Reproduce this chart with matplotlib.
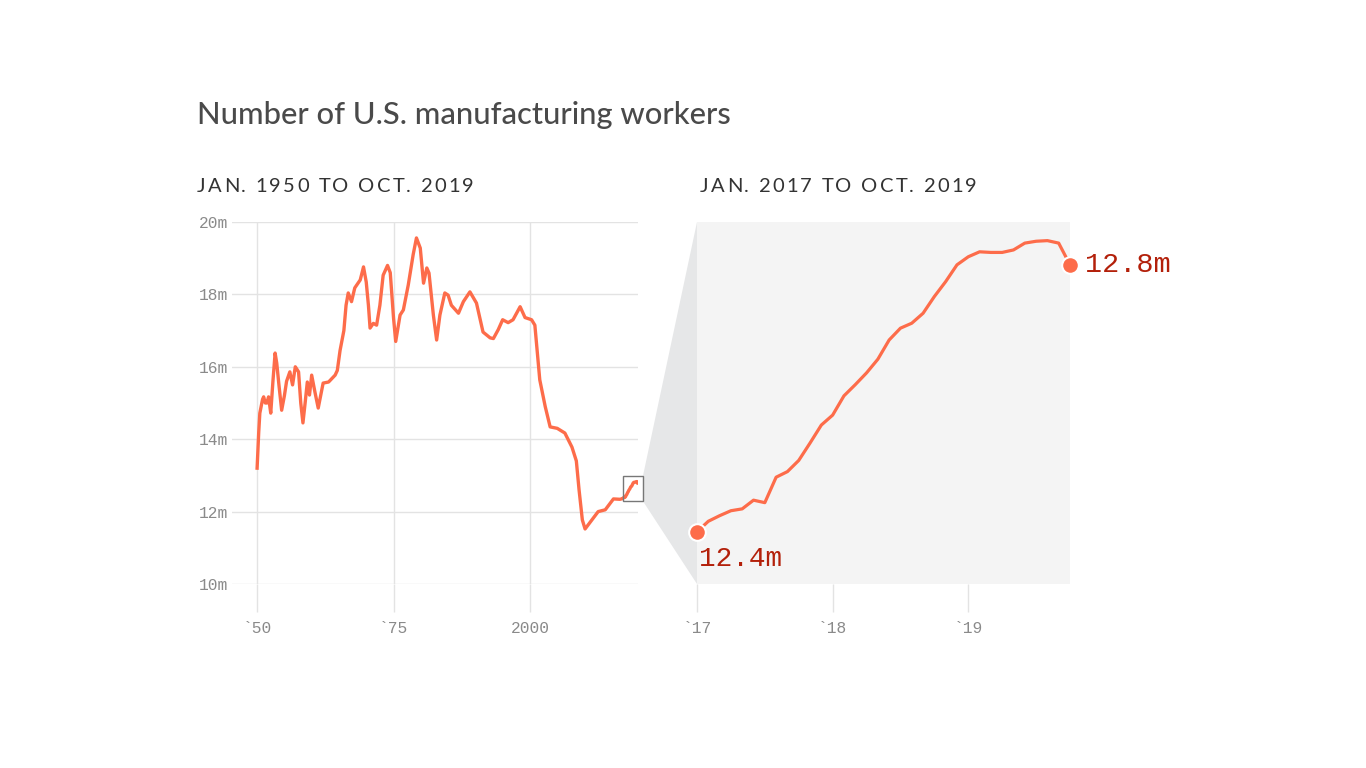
import numpy as np
import matplotlib.pyplot as plt
from matplotlib.patches import Polygon, Rectangle
from matplotlib.font_manager import FontProperties

# long view, millions of workers
hist_years = [1950.0, 1950.3, 1950.5, 1951.0, 1951.2, 1951.5, 1951.8, 1952.1, 1952.5, 1952.9,
              1953.3, 1953.6, 1954.0, 1954.5, 1955.0, 1955.4, 1956.0, 1956.5, 1957.0, 1957.6,
              1958.0, 1958.4, 1958.8, 1959.2, 1959.6, 1960.0, 1960.6, 1961.2, 1962.1, 1963.1,
              1964.3, 1964.7, 1965.2, 1965.9, 1966.3, 1966.7, 1967.3, 1967.9, 1968.9, 1969.5,
              1970.0, 1970.4, 1970.7, 1971.3, 1971.9, 1972.5, 1973.1, 1973.9, 1974.4, 1975.0,
              1975.4, 1976.2, 1976.8, 1977.7, 1978.6, 1979.2, 1979.9, 1980.5, 1981.1, 1981.5,
              1982.3, 1982.9, 1983.5, 1984.4, 1985.0, 1985.6, 1986.9, 1987.8, 1989.0, 1990.2,
              1991.4, 1992.7, 1993.3, 1994.2, 1995.0, 1996.0, 1996.9, 1998.2, 1999.1, 2000.3,
              2000.9, 2001.8, 2002.8, 2003.7, 2005.0, 2006.4, 2007.7, 2008.5, 2009.0, 2009.6,
              2010.1, 2011.0, 2012.5, 2013.8, 2015.3, 2016.5]
hist_values = [13.2, 14.2, 14.72, 15.1, 15.17, 15.0, 15.0, 15.17, 14.72, 15.6,
               16.38, 16.1, 15.5, 14.8, 15.2, 15.6, 15.86, 15.5, 16.0, 15.86,
               15.0, 14.45, 15.0, 15.58, 15.22, 15.77, 15.3, 14.86, 15.55, 15.58,
               15.77, 15.9, 16.45, 17.0, 17.7, 18.04, 17.8, 18.18, 18.4, 18.76,
               18.34, 17.7, 17.07, 17.2, 17.15, 17.7, 18.53, 18.8, 18.6, 17.35,
               16.7, 17.43, 17.57, 18.26, 19.1, 19.56, 19.28, 18.31, 18.73, 18.59,
               17.43, 16.74, 17.43, 18.04, 17.98, 17.7, 17.48, 17.8, 18.07, 17.76,
               16.96, 16.8, 16.78, 17.03, 17.3, 17.22, 17.3, 17.66, 17.36, 17.3,
               17.15, 15.64, 14.9, 14.34, 14.3, 14.17, 13.78, 13.4, 12.6, 11.77,
               11.52, 11.7, 12.0, 12.05, 12.35, 12.34]

# monthly, Jan 2017 .. Oct 2019
recent_values = [12.360, 12.377, 12.386, 12.394, 12.397, 12.411, 12.407, 12.448, 12.457, 12.475,
                 12.503, 12.532, 12.548, 12.579, 12.597, 12.616, 12.638, 12.669, 12.688, 12.696,
                 12.712, 12.739, 12.763, 12.790, 12.803, 12.811, 12.810, 12.810, 12.814, 12.825,
                 12.828, 12.829, 12.825, 12.790]
recent_years = 2017 + np.arange(len(recent_values)) / 12

left_ticks = [1950, 1975, 2000]
left_tick_labels = ["`50", "`75", "2000"]
right_ticks = [2017, 2018, 2019]
right_tick_labels = ["`17", "`18", "`19"]
y_ticks = [10, 12, 14, 16, 18, 20]

ORANGE = "#fd6c4a"
RED_TEXT = "#b3200a"
GRID = "#e3e3e3"
TICK_TXT = "#8a8a8a"
MONO = "Liberation Mono"
SANS = "Lato"

W, H = 1366, 768
fig = plt.figure(figsize=(W / 100, H / 100), dpi=100)


def px_box(x0, y0, x1, y1):
    return [x0 / W, 1 - y1 / H, (x1 - x0) / W, (y1 - y0) / H]


def spaced_text(x_px, y_px, s, size, color, tracking_px, weight="normal"):
    # matplotlib has no letter-spacing, so lay the letters out one by one
    rend = fig.canvas.get_renderer()
    fp = FontProperties(family=SANS, size=size, weight=weight)

    def width(t):
        return rend.get_text_width_height_descent(t, fp, ismath=False)[0]

    space_w = width("a a") - width("aa")
    x = x_px
    for ch in s:
        if ch != " ":
            fig.text(x / W, 1 - y_px / H, ch, fontproperties=fp, color=color,
                     va="center", ha="left")
            x += width(ch) + tracking_px
        else:
            x += space_w + tracking_px


ax1 = fig.add_axes(px_box(232, 222, 638, 584))
ax2 = fig.add_axes(px_box(697, 222, 1070, 584))

# left: whole history
all_years = np.concatenate([hist_years, recent_years])
all_values = np.concatenate([hist_values, recent_values])
ax1.plot(all_years, all_values, color=ORANGE, lw=2.4, solid_joinstyle="round", zorder=3)
ax1.set_xlim(1945.4, 2019.8)
ax1.set_ylim(10, 20)
ax1.set_xticks(left_ticks)
ax1.set_xticklabels(left_tick_labels)
ax1.set_yticks(y_ticks)
ax1.set_yticklabels([f"{v}m" for v in y_ticks])
ax1.grid(True, color=GRID, lw=1, zorder=0)
for s in ax1.spines.values():
    s.set_visible(False)
ax1.tick_params(axis="x", length=20, width=1, color=GRID, pad=6.5, labelsize=11.7,
                labelcolor=TICK_TXT)
ax1.tick_params(axis="y", length=0, pad=3, labelsize=11.7, labelcolor=TICK_TXT)
for lab in ax1.get_xticklabels() + ax1.get_yticklabels():
    lab.set_fontfamily(MONO)

# right: last stretch
ax2.set_facecolor("#f4f4f4")
ax2.plot(recent_years, recent_values, color=ORANGE, lw=2.3, solid_joinstyle="round", zorder=3)
ax2.plot([recent_years[0], recent_years[-1]], [recent_values[0], recent_values[-1]], "o",
         ms=12, mfc=ORANGE, mec="white", mew=1.5, zorder=4, clip_on=False)
ax2.set_xlim(2017, 2017 + 2.75)
ax2.set_ylim(12.276, 12.859)
ax2.set_xticks(right_ticks)
ax2.set_xticklabels(right_tick_labels)
ax2.set_yticks([])
for s in ax2.spines.values():
    s.set_visible(False)
ax2.tick_params(axis="x", length=20, width=1, color=GRID, pad=6.5, labelsize=11.7,
                labelcolor=TICK_TXT)
for lab in ax2.get_xticklabels():
    lab.set_fontfamily(MONO)

ax2.annotate(f"{recent_values[0]:.1f}m", (recent_years[0], recent_values[0]),
             xytext=(1.5, -10), textcoords="offset points", ha="left", va="top",
             fontsize=20, family=MONO, color=RED_TEXT, annotation_clip=False)
ax2.annotate(f"{recent_values[-1]:.1f}m", (recent_years[-1], recent_values[-1]),
             xytext=(11, 0), textcoords="offset points", ha="left", va="center",
             fontsize=20.5, family=MONO, color=RED_TEXT, annotation_clip=False)

# zoom box on the long view, and the wedge joining it to the right panel
box_x0, box_x1 = 2017.0, 2020.7
box_y0, box_y1 = 12.29, 12.98
ax1.add_patch(Rectangle((box_x0, box_y0), box_x1 - box_x0, box_y1 - box_y0,
                        fill=False, ec="#777777", lw=1, clip_on=False, zorder=5))

to_fig = fig.transFigure.inverted()
p_top = to_fig.transform(ax1.transData.transform((box_x1, box_y1)))
p_bot = to_fig.transform(ax1.transData.transform((box_x1, box_y0)))
q_top = to_fig.transform(ax2.transAxes.transform((0, 1)))
q_bot = to_fig.transform(ax2.transAxes.transform((0, 0)))
fig.add_artist(Polygon([p_top, q_top, q_bot, p_bot], closed=True, fc="#e6e7e8", ec="none",
                       transform=fig.transFigure, zorder=0))

# titles
fig.text(197 / W, 1 - 115 / H, "Number of U.S. manufacturing workers", family=SANS,
         fontsize=22.2, weight="medium", color="#4a4a4a", va="center", ha="left")
spaced_text(197, 187, "JAN. 1950 TO OCT. 2019", 14.5, "#333333", 2.2)
spaced_text(700, 187, "JAN. 2017 TO OCT. 2019", 14.5, "#333333", 2.2)

plt.savefig("out.png", dpi=100, facecolor="white")
